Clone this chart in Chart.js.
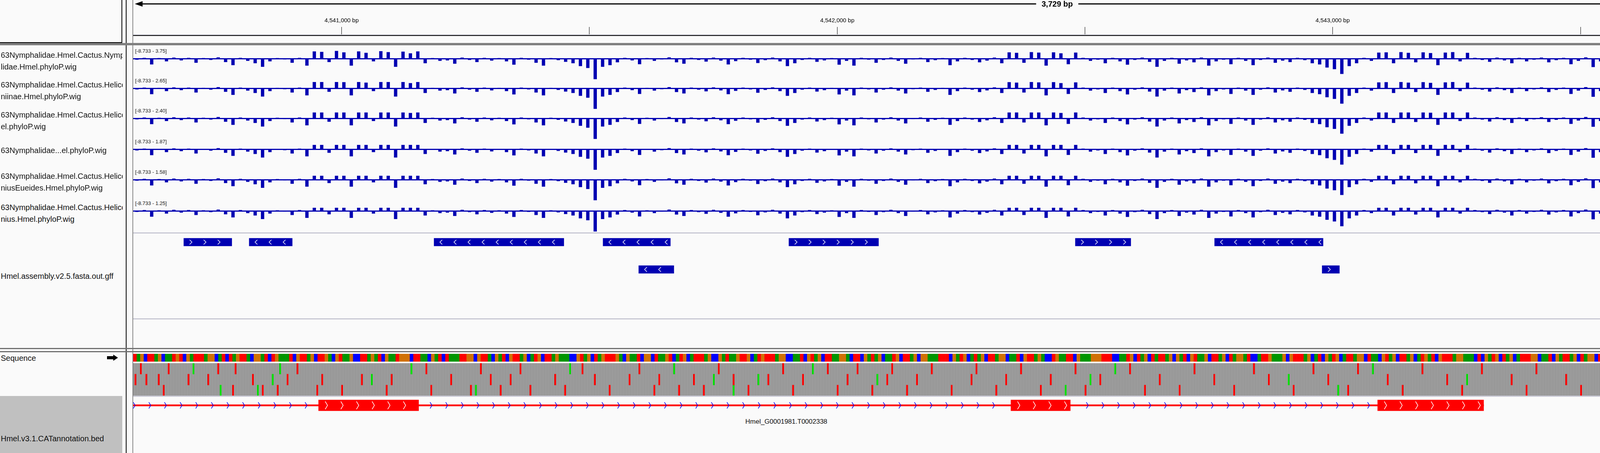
<!DOCTYPE html>
<html>
<head>
<meta charset="utf-8">
<script src="https://cdn.jsdelivr.net/npm/chart.js@4"></script>
<style>
  body{margin:0;background:#fafafa;width:5072px;height:1160px;overflow:hidden;font-family:"Liberation Sans",Arial,sans-serif;}
  .abs{position:absolute;}
  .lbl{position:absolute;left:2px;font-size:20px;color:#111;white-space:nowrap;overflow:hidden;width:312px;}
  .rng{position:absolute;left:346px;font-size:13px;color:#111;}
  canvas{position:absolute;}
</style>
</head>
<body>
<div id="root"></div>
<script>
Chart.defaults.animation = false;
Chart.defaults.devicePixelRatio = 1;

// region shown
const regionStart = 4540580;
const regionEnd = 4544309;
const rulerTicks = [4541000, 4541500, 4542000, 4542500, 4543000, 4543500, 4544000];
const rulerLabels = ["4,541,000 bp", "", "4,542,000 bp", "", "4,543,000 bp", "", "4,544,000 bp"];

// phyloP tracks (binned, ~15 bp per bin)
const trackNames = [
  ["63Nymphalidae.Hmel.Cactus.Nymphalidae.Hmel.phyloP.wig", "lidae.Hmel.phyloP.wig"],
  ["63Nymphalidae.Hmel.Cactus.Heliconiinae.Hmel.phyloP.wig", "niinae.Hmel.phyloP.wig"],
  ["63Nymphalidae.Hmel.Cactus.Heliconius.Hmel.phyloP.wig", "el.phyloP.wig"],
  ["63Nymphalidae...el.phyloP.wig"],
  ["63Nymphalidae.Hmel.Cactus.Heliconius", "niusEueides.Hmel.phyloP.wig"],
  ["63Nymphalidae.Hmel.Cactus.Heliconius", "nius.Hmel.phyloP.wig"]
];
const trackMin = -8.733;
const trackMax = [3.75, 2.65, 2.40, 1.87, 1.58, 1.25];
const phyloP = [
  -0.5,0.3,-2.5,0.2,-1.2,0.4,-0.8,0.3,-1.8,0.2,
  -0.6,0.5,-1.5,-2.8,0.3,-1.0,-2.0,-3.5,-1.2,0.2,
  -0.4,-1.8,0.3,-3.0,3.0,2.8,-1.5,3.2,2.6,-3.0,
  3.0,2.4,-1.2,3.1,2.7,-3.5,2.9,2.2,3.0,-2.0,
  0.2,-1.0,-0.8,-2.2,0.4,-0.6,-1.5,0.3,-0.9,0.2,
  -1.2,-2.6,0.3,-0.5,-1.8,-3.0,0.2,-0.7,-1.4,-2.0,
  -3.2,-4.0,-8.7,-3.5,-2.8,-1.6,0.3,-0.8,-2.4,0.2,
  -1.0,-0.4,0.5,-1.6,-2.2,0.3,-0.6,-1.3,0.4,-0.9,
  -2.5,-1.1,0.3,-0.5,-1.9,-0.7,0.4,-1.2,-3.2,-2.0,
  -0.6,0.3,-1.4,-0.8,0.2,-2.6,-1.0,-3.0,0.3,-0.5,
  -1.8,-0.6,0.4,-1.0,-2.2,-0.4,0.3,-1.5,-0.7,0.2,
  -2.8,-1.2,0.3,-0.6,-1.6,-0.9,0.4,-2.0,2.6,2.4,
  -1.8,2.7,2.5,-3.0,2.6,2.2,-2.4,2.5,0.3,-1.0,
  -0.5,-2.0,0.3,-1.2,-2.6,-0.6,0.4,-1.4,-3.5,-1.0,
  0.3,-2.2,-0.8,-1.6,0.4,-3.0,-1.2,-0.5,-2.4,0.3,
  -1.0,-2.8,-0.6,0.4,-1.8,-0.9,-1.5,0.3,-0.7,-2.0,
  -2.5,-3.8,-4.5,-6.5,-3.2,-2.0,0.3,-1.0,2.5,2.6,
  -2.0,2.7,2.4,-1.6,2.6,2.3,-2.8,2.5,2.7,-1.2,
  2.4,0.3,-0.6,-1.4,0.4,-0.8,-2.0,0.3,-1.2,-0.5,
  0.4,-1.6,-0.7,0.3,-2.4,-1.0,0.5,-3.6,-1.2,-5.5,
  -2.2,-1.0,0.4,-1.6,0.6,-0.8,-2.0,0.5,-1.2,1.5,
  1.2,-2.6,1.6,1.0,-1.4,1.5,1.3,-3.0,1.4,1.2,
  -1.8,0.8,0.6,-1.0,0.5,1.2,0.9,-1.6,1.3,1.0,
  0.8,-2.2,1.1,0.9,-0.8,1.2,1.0,0.7,-1.4,1.1,
  1.3,0.9,-0.6,1.2,1.0,-1.2,1.4,0.8,-2.0,1.1
];

// repeat features (gff)
const gffRow1Start = [4540682, 4540814, 4541187, 4541528, 4541903, 4542481, 4542762, 4543991];
const gffRow1End   = [4540779, 4540901, 4541449, 4541664, 4542084, 4542593, 4542981, 4544149];
const gffRow1Strand = ["+", "-", "-", "-", "+", "+", "-", "-"];
const gffRow2Start = [4541600, 4542979, 4544146];
const gffRow2End   = [4541671, 4543014, 4544213];
const gffRow2Strand = ["-", "+", "-"];

// reference sequence (coarse)
const sequence =
  "TAGCTTAGCAATGTCGATTTAGGCATCTAGTTACGGATCTGAAATCGTTAGCTTGACGTAAGCCTTAGATCGAATGGGCTTAACGATCT" +
  "AAATTGGCGTTACGATCGTTAGCATGCTTAGAAACCGTAGCTAGTTTGACGAATCGGCTAAGTCATGCATTTAGCCGATAAGTTGCATG" +
  "TTTAGGCCAATCGTAGCTTAAGGACTTCGATAGCAATGCTTAGCGGAAATTTCGATGCATAGCTTAGGCAATCGTTAGACCTGAATTCG" +
  "AAAGGGTTTCCAATGCTAGCTATTAGCGATCGTAAGCTTAGCTAGGATCCATTGAAAGCGTTTAGCATCGATGCATTAGGCTAACGTAG" +
  "CTTAGCATGATCGTTTAGGAAACTCGATGCTAGCATTTGGCAATCGATTAGCTAGGCTTAAGCGATCAATGCTAGCTTGAACGTAATCG" +
  "TTAGCATCGATAGGCTTAAAGCTAGTCGATGCAATTTAGCGATCGTAGCATTGAACTTAGCGATCGATTAGGCAAT";

// alignment mismatches, offsets in bp from regionStart
const alnRed1 = [14,70,170,205,330,590,700,780,905,1020,1180,1310,1400,1460,1530,1610,1700,1790,1900,2010,2140,2260,2380,2470,2600,2720,2830,2960,3080,3190,3290,3400,3520,3640];
const alnGreen1 = [120,295,560,880,1090,1370,1980,2500,3010,3350];
const alnRed2 = [3,25,50,110,150,240,310,380,460,520,640,720,760,850,930,1000,1060,1130,1210,1280,1350,1440,1520,1580,1690,1760,1850,1950,2070,2180,2290,2410,2530,2650,2780,2890,3000,3130,3240,3360,3480,3600,3700];
const alnGreen2 = [280,480,1170,1260,1500,1930,2330,2690,3160,3560];
const alnRed3 = [60,200,260,290,370,420,510,600,680,740,800,870,960,1050,1100,1150,1240,1330,1420,1490,1560,1650,1740,1830,1920,2040,2110,2220,2340,2450,2560,2680,2810,2920,3050,3170,3300,3430,3550,3680];
const alnGreen3 = [175,250,690,1210,1880,2430,2990,3620];

// gene model (bed)
const geneName = "Hmel_G0001981.T0002338";
const exonStart = [4540954, 4542351, 4543091];
const exonEnd   = [4541156, 4542471, 4543305];

// ---------- layout helpers ----------
const root = document.getElementById("root");
const DX = 341, DW = 5072 - 341;

function box(l, t, w, h, css){
  const d = document.createElement("div");
  d.className = "abs";
  d.style.cssText = `left:${l}px;top:${t}px;width:${w}px;height:${h}px;` + (css||"");
  root.appendChild(d);
  return d;
}
function text(cls, l, t, s, css){
  const d = document.createElement("div");
  d.className = cls;
  d.style.top = t + "px";
  if (l !== null) d.style.left = l + "px";
  if (css) d.style.cssText += css;
  d.textContent = s;
  root.appendChild(d);
  return d;
}
function canvasAt(l, t, w, h){
  const c = document.createElement("canvas");
  c.width = w; c.height = h;
  c.style.cssText = `left:${l}px;top:${t}px;width:${w}px;height:${h}px;`;
  root.appendChild(c);
  return c;
}
function baseOptions(extra){
  return Object.assign({
    responsive:false, maintainAspectRatio:false,
    layout:{padding:0},
    plugins:{legend:{display:false}, tooltip:{enabled:false}},
    events:[]
  }, extra);
}

// frame lines
box(0, 0, 311, 108, "border-right:2px solid #000;border-bottom:3px solid #000;");
box(322, 0, 2, 1160, "background:#000;");
box(339, 0, 2, 1160, "background:#888;");
box(341, 88, DW, 2, "background:#c8c8d4;");
box(341, 90, DW, 2, "background:#000;");
box(0, 110, 5072, 6, "background:#808080;");
box(341, 595, DW, 3, "background:#c8c8d4;");
box(341, 815, DW, 3, "background:#c8c8d4;");
box(0, 891, 5072, 3, "background:#707070;");
box(0, 899, 5072, 3, "background:#707070;");
box(0, 1014, 313, 146, "background:#c0c0c0;");

// ---------- ruler ----------
new Chart(canvasAt(DX, 0, DW, 88), {
  type:"scatter",
  data:{datasets:[]},
  options:baseOptions({
    scales:{x:{type:"linear", min:regionStart, max:regionEnd, display:false}, y:{display:false}}
  }),
  plugins:[{
    id:"ruler",
    afterDraw(chart){
      const c = chart.ctx, x = chart.scales.x;
      const l = x.getPixelForValue(regionStart) + 4, r = x.getPixelForValue(regionEnd) - 4;
      c.save();
      c.strokeStyle = "#000"; c.fillStyle = "#000"; c.lineWidth = 3;
      const mid = (l + r) / 2;
      c.font = "bold 20px 'Liberation Sans', Arial";
      c.textAlign = "center"; c.textBaseline = "middle";
      const lbl = (regionEnd - regionStart).toLocaleString("en-US") + " bp";
      const tw = c.measureText(lbl).width / 2 + 14;
      c.beginPath(); c.moveTo(l + 14, 10); c.lineTo(mid - tw, 10);
      c.moveTo(mid + tw, 10); c.lineTo(r - 14, 10); c.stroke();
      c.beginPath(); c.moveTo(l, 10); c.lineTo(l + 20, 3); c.lineTo(l + 20, 17); c.fill();
      c.beginPath(); c.moveTo(r, 10); c.lineTo(r - 20, 3); c.lineTo(r - 20, 17); c.fill();
      c.fillText(lbl, mid, 11);
      c.font = "15px 'Liberation Sans', Arial";
      c.lineWidth = 1;
      rulerTicks.forEach((t, i) => {
        const px = Math.round(x.getPixelForValue(t)) + 0.5;
        if (rulerLabels[i]) c.fillText(rulerLabels[i], px, 53);
        c.beginPath(); c.moveTo(px, 69); c.lineTo(px, 88); c.stroke();
      });
      c.restore();
    }
  }]
});

// ---------- phyloP tracks ----------
const PXU = 6.07;
const zeros = [150, 226, 303, 382, 460, 540];
const blue = "#0000b2";
const zeroLine = {
  id:"zeroLine",
  afterDatasetsDraw(chart){
    const c = chart.ctx, y = Math.round(chart.scales.y.getPixelForValue(0));
    c.save(); c.fillStyle = blue; c.fillRect(0, y - 1, chart.width, 3); c.restore();
  }
};
trackMax.forEach((mx, i) => {
  const top = Math.round(zeros[i] - mx * PXU);
  const h = Math.round((mx - trackMin) * PXU);
  new Chart(canvasAt(DX, top, DW, h), {
    type:"bar",
    data:{labels:phyloP.map((_, k) => k), datasets:[{data:phyloP, backgroundColor:blue, barPercentage:0.45, categoryPercentage:1}]},
    options:baseOptions({scales:{x:{display:false}, y:{display:false, min:trackMin, max:mx}}}),
    plugins:[zeroLine]
  });
  text("rng", null, zeros[i] - 27, `[${trackMin} - ${mx === 3.75 ? "3.75" : mx.toFixed(2)}]`);
  const names = trackNames[i];
  if (names.length === 1) text("lbl", null, zeros[i] - 8, names[0]);
  else { text("lbl", null, zeros[i] - 20, names[0]); text("lbl", null, zeros[i] + 10, names[1]); }
});

// ---------- gff repeats ----------
function chevrons(chart, dsIndex, strands, color, spacing){
  const c = chart.ctx;
  const meta = chart.getDatasetMeta(dsIndex);
  c.save(); c.strokeStyle = color; c.lineWidth = 1.5;
  meta.data.forEach((bar, k) => {
    const s = strands[k];
    const l = Math.min(bar.base, bar.x), r = Math.max(bar.base, bar.x);
    const hh = bar.height / 2 - 4;
    for (let px = l + spacing / 2; px < r - 4; px += spacing) {
      const d = s === "+" ? 3 : -3;
      c.beginPath(); c.moveTo(px - d, bar.y - hh); c.lineTo(px + d, bar.y); c.lineTo(px - d, bar.y + hh); c.stroke();
    }
  });
  c.restore();
}
new Chart(canvasAt(DX, 585, DW, 140), {
  type:"bar",
  data:{labels:["r1", "r2"], datasets:[
    {data:gffRow1Start.map((s, k) => ({x:[s, gffRow1End[k]], y:"r1"})), backgroundColor:blue, barThickness:20, grouped:false},
    {data:gffRow2Start.map((s, k) => ({x:[s, gffRow2End[k]], y:"r2"})), backgroundColor:blue, barThickness:20, grouped:false}
  ]},
  options:baseOptions({indexAxis:"y", scales:{x:{type:"linear", min:regionStart, max:regionEnd, display:false}, y:{display:false}}}),
  plugins:[{id:"gffChev", afterDatasetsDraw(chart){
    chevrons(chart, 0, gffRow1Strand, "#fff", 36);
    chevrons(chart, 1, gffRow2Strand, "#fff", 36);
  }}]
});
text("lbl", null, 696, "Hmel.assembly.v2.5.fasta.out.gff");

// ---------- sequence ----------
const baseColor = {A:"#009600", C:"#0000ff", G:"#d17105", T:"#ff0000"};
new Chart(canvasAt(DX, 906, DW, 20), {
  type:"bar",
  data:{labels:sequence.split(""), datasets:[{data:sequence.split("").map(() => 1),
    backgroundColor:sequence.split("").map(b => baseColor[b]), barPercentage:1, categoryPercentage:1}]},
  options:baseOptions({scales:{x:{display:false}, y:{display:false, min:0, max:1}}})
});
text("lbl", null, 906, "Sequence");
(function(){
  const a = document.createElement("div");
  a.className = "abs";
  a.style.cssText = "left:274px;top:908px;width:0;height:0;";
  a.innerHTML = '<div style="position:absolute;left:0;top:4px;width:16px;height:8px;background:#000"></div>' +
    '<div style="position:absolute;left:16px;top:0;width:0;height:0;border-top:8px solid transparent;border-bottom:8px solid transparent;border-left:12px solid #000"></div>';
  root.appendChild(a);
})();

// ---------- alignment rows ----------
function stripe(c1, c2){
  const p = document.createElement("canvas"); p.width = 4; p.height = 1;
  const g = p.getContext("2d");
  g.fillStyle = c1; g.fillRect(0, 0, 2, 1); g.fillStyle = c2; g.fillRect(2, 0, 2, 1);
  return p;
}
const alnCanvas = canvasAt(DX, 930, DW, 84);
const pat = alnCanvas.getContext("2d").createPattern(stripe("#8e8e8e", "#a6a6a6"), "repeat");
const rows = ["a1", "a2", "a3"];
const reds = [alnRed1, alnRed2, alnRed3], greens = [alnGreen1, alnGreen2, alnGreen3];
const mm = (arr, row) => arr.map(o => ({x:[regionStart + o, regionStart + o + 3], y:row}));
new Chart(alnCanvas, {
  type:"bar",
  data:{labels:rows, datasets:[
    {data:rows.map(r => ({x:[regionStart, regionEnd], y:r})), backgroundColor:pat, barPercentage:1, categoryPercentage:1, grouped:false, order:3},
    {data:rows.flatMap((r, k) => mm(reds[k], r)), backgroundColor:"#ff0000", barPercentage:1, categoryPercentage:1, grouped:false, order:1},
    {data:rows.flatMap((r, k) => mm(greens[k], r)), backgroundColor:"#00e000", barPercentage:1, categoryPercentage:1, grouped:false, order:1}
  ]},
  options:baseOptions({indexAxis:"y", scales:{x:{type:"linear", min:regionStart, max:regionEnd, display:false}, y:{display:false}}})
});
box(341, 1013, DW, 3, "background:#c8c8d4;");

// ---------- gene model ----------
new Chart(canvasAt(DX, 1022, DW, 32), {
  type:"bar",
  data:{labels:["g"], datasets:[
    {data:[{x:[regionStart, exonEnd[exonEnd.length - 1]], y:"g"}], backgroundColor:"#ff0000", barThickness:4, grouped:false},
    {data:exonStart.map((s, k) => ({x:[s, exonEnd[k]], y:"g"})), backgroundColor:"#ff0000", barThickness:28, grouped:false}
  ]},
  options:baseOptions({indexAxis:"y", scales:{x:{type:"linear", min:regionStart, max:regionEnd, display:false}, y:{display:false}}}),
  plugins:[{id:"geneChev", afterDatasetsDraw(chart){
    const c = chart.ctx, x = chart.scales.x;
    const line = chart.getDatasetMeta(0).data[0];
    const ex = chart.getDatasetMeta(1).data;
    const inExon = px => ex.some(b => px > Math.min(b.base, b.x) - 6 && px < Math.max(b.base, b.x) + 6);
    c.save(); c.lineWidth = 1.5;
    for (let px = x.left + 2; px < line.x; px += 40) {
      if (inExon(px)) continue;
      c.strokeStyle = "#0000ff";
      c.beginPath(); c.moveTo(px - 2, line.y - 8); c.lineTo(px + 3, line.y); c.lineTo(px - 2, line.y + 8); c.stroke();
    }
    chevrons(chart, 1, exonStart.map(() => "+"), "#fff", 40);
    c.restore();
  }}]
});
text("abs", null, 1070, geneName, "font-size:17px;color:#111;left:1908px;");
text("lbl", null, 1112, "Hmel.v3.1.CATannotation.bed");
</script>
</body>
</html>
